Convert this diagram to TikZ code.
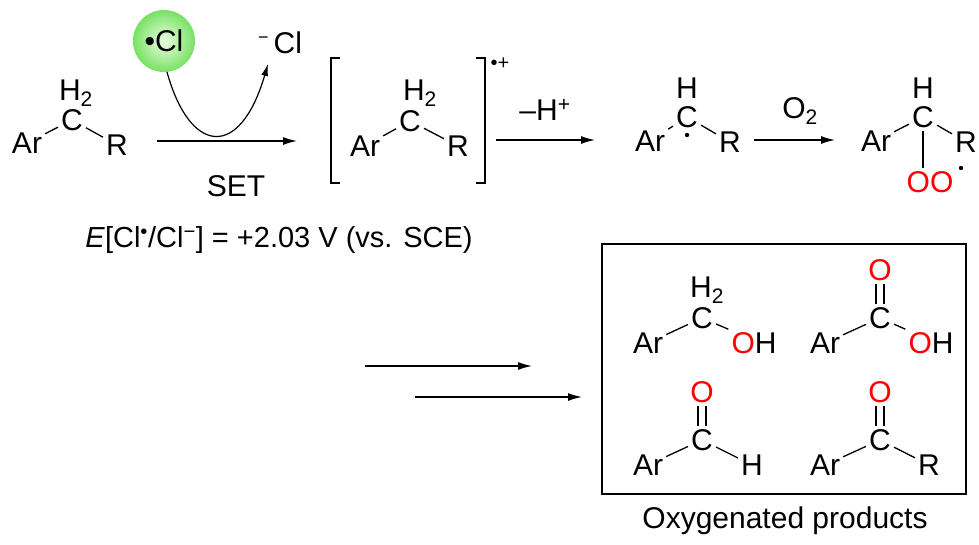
\documentclass[tikz,border=0pt]{standalone}
\usepackage{fontspec}
\setmainfont{Liberation Sans}
\usetikzlibrary{arrows.meta}
\begin{document}
\begin{tikzpicture}[x=1pt,y=-1pt,
  t/.style={font=\fontsize{30}{32}\selectfont, inner sep=3pt},
  s/.style={font=\fontsize{20}{22}\selectfont, inner sep=0pt},
  red/.style={text={rgb,255:red,255;green,0;blue,0}},
  bond/.style={line width=1.3pt},
  rxn/.style={line width=1.3pt,-{Latex[length=14pt,width=8pt]}}]
\useasboundingbox (0,0) rectangle (979,544);
% molecule 1
\node[t] (ar1) at (27,143) {Ar};
\node[t] (c1) at (72,120) {C};
\node[t] (h1) at (76,93) {H\textsubscript{2}};
\node[t] (r1) at (117,145) {R};
\draw[bond] (ar1) -- (c1) (c1) -- (r1);
% Cl radical
\shade[inner color={rgb,255:red,235;green,255;blue,225}, outer color={rgb,255:red,120;green,225;blue,100}, draw=none] (164,41) circle (31);
\node[t] (clr) at (164,41) {•Cl};
\node[t] (clm) at (280,43) {\raisebox{10pt}{\fontsize{18}{18}\selectfont−}\,Cl};
\coordinate (cs) at (167,72);
\coordinate (ce) at (268,64);
\draw[line width=1.2pt,-{Latex[length=12pt,width=7pt]}] (cs) .. controls (190,155) and (240,160) .. (ce);
\coordinate (a1s) at (157,141); \coordinate (a1e) at (297,141);
\draw[rxn] (a1s) -- (a1e);
\node[t] (set) at (236,186) {SET};
\node[t,font=\fontsize{29}{31}\selectfont] (pot) at (279,240) {\textit{E}[Cl\textsuperscript{•}/Cl\textsuperscript{−}] = +2.03 V (vs. SCE)};
% bracket
\draw[line width=1.3pt] (340,58) -- (331,58) -- (331,183) -- (340,183);
\draw[line width=1.3pt] (476,58) -- (485,58) -- (485,183) -- (476,183);
\node[s] (chg) at (500,64) {•+};
\node[t] (ar2) at (365,146) {Ar};
\node[t] (c2) at (410,121) {C};
\node[t] (h2) at (420,93) {H\textsubscript{2}};
\node[t] (r2) at (458,146) {R};
\draw[bond] (ar2) -- (c2) (c2) -- (r2);
\coordinate (a2s) at (496,140); \coordinate (a2e) at (595,140);
\draw[rxn] (a2s) -- (a2e);
\node[t] (mh) at (545,110) {–H\textsuperscript{+}};
% molecule 3
\node[t] (ar3) at (650,141) {Ar};
\node[t] (c3) at (687,117) {C};
\node[t] (h3) at (687,88) {H};
\node[t] (r3) at (730,142) {R};
\fill (687,135) circle (2.2);
\draw[bond] (ar3) -- (c3) (c3) -- (r3);
\coordinate (a3s) at (754,140); \coordinate (a3e) at (835,140);
\draw[rxn] (a3s) -- (a3e);
\node[t] (o2) at (800,111) {O\textsubscript{2}};
% molecule 4
\node[t] (ar4) at (876,141) {Ar};
\node[t] (c4) at (923,117) {C};
\node[t] (h4) at (923,88) {H};
\node[t] (r4) at (966,142) {R};
\node[t,red] (oo) at (930,182) {OO};
\fill (961,168) circle (2.2);
\draw[bond] (ar4) -- (c4) (c4) -- (r4);
\draw[bond] (c4.south) -- (c4.south |- oo.north);
% two arrows
\coordinate (b1s) at (365,366); \coordinate (b1e) at (532,366);
\coordinate (b2s) at (415,397); \coordinate (b2e) at (582,397);
\draw[rxn] (b1s) -- (b1e);
\draw[rxn] (b2s) -- (b2e);
% box
\draw[line width=1.3pt] (602,244) rectangle (966,494);
\node[t] (lab) at (785,521) {Oxygenated products};
% P1
\node[t] (pa1) at (648,343) {Ar};
\node[t] (pc1) at (702,318) {C};
\node[t] (ph1) at (707,290) {H\textsubscript{2}};
\node[t] (po1) at (754,343) {\textcolor{red}{O}H};
\draw[bond] (pa1) -- (pc1) (pc1) -- (po1.north west);
% P2
\node[t] (pa2) at (825,343) {Ar};
\node[t] (pc2) at (880,318) {C};
\node[t,red] (pk2) at (880,270) {O};
\node[t] (po2) at (931,343) {\textcolor{red}{O}H};
\draw[bond] (pa2) -- (pc2) (pc2) -- (po2.north west);
\draw[bond] ([xshift=-4pt]pc2.north) -- ([xshift=-4pt]pk2.south) ([xshift=4pt]pc2.north) -- ([xshift=4pt]pk2.south);
% P3
\node[t] (pa3) at (648,465) {Ar};
\node[t] (pc3) at (702,440) {C};
\node[t,red] (pk3) at (702,392) {O};
\node[t] (ph3) at (752,465) {H};
\draw[bond] (pa3) -- (pc3) (pc3) -- (ph3);
\draw[bond] ([xshift=-4pt]pc3.north) -- ([xshift=-4pt]pk3.south) ([xshift=4pt]pc3.north) -- ([xshift=4pt]pk3.south);
% P4
\node[t] (pa4) at (825,465) {Ar};
\node[t] (pc4) at (880,440) {C};
\node[t,red] (pk4) at (880,392) {O};
\node[t] (pr4) at (929,465) {R};
\draw[bond] (pa4) -- (pc4) (pc4) -- (pr4);
\draw[bond] ([xshift=-4pt]pc4.north) -- ([xshift=-4pt]pk4.south) ([xshift=4pt]pc4.north) -- ([xshift=4pt]pk4.south);
\end{tikzpicture}
\end{document}
